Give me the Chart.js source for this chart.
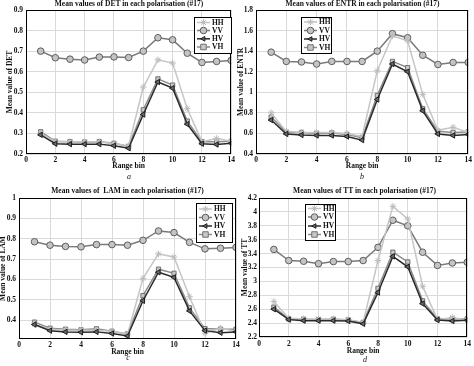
<!DOCTYPE html>
<html>
<head>
<meta charset="utf-8">
<script src="https://cdn.jsdelivr.net/npm/chart.js@4.4.1/dist/chart.umd.min.js"></script>
<style>
  html, body { margin: 0; padding: 0; background: #ffffff; }
  #wrap { position: relative; width: 474px; height: 366px; overflow: hidden; background: #fff; }
  canvas { position: absolute; }
  .ttl, .cap { position: absolute; font-family: "Liberation Serif", "DejaVu Serif", serif; color: #111; white-space: nowrap; text-align: center; }
  .ttl { font-weight: bold; font-size: 7.5px; }
  .cap { font-style: italic; font-size: 8px; }
</style>
</head>
<body>
<div id="wrap">
  <canvas id="cc" width="245" height="183" style="left:0px;top:183px"></canvas>
  <canvas id="ca" width="237" height="183" style="left:0px;top:0px"></canvas>
  <canvas id="cb" width="237" height="183" style="left:237px;top:0px"></canvas>
  <canvas id="cd" width="237" height="183" style="left:237px;top:183px"></canvas>
  <div class="ttl" style="left:26px;width:206px;top:-1px">Mean values of DET in each polarisation (#17)</div>
  <div class="ttl" style="left:256px;width:213px;top:-1px">Mean values of ENTR in each polarisation (#17)</div>
  <div class="ttl" style="left:19px;width:217px;top:186px">Mean values of&nbsp; LAM in each polarisation (#17)</div>
  <div class="ttl" style="left:259px;width:211px;top:186px">Mean values of TT in each polarisation (#17)</div>
  <div class="cap" style="left:119px;width:20px;top:172px">a</div>
  <div class="cap" style="left:352px;width:20px;top:172px">b</div>
  <div class="cap" style="left:118px;width:20px;top:353px">c</div>
  <div class="cap" style="left:355px;width:20px;top:355px">d</div>
</div>
<script>
// ---------- data ----------
const rangeBins = [1, 2, 3, 4, 5, 6, 7, 8, 9, 10, 11, 12, 13, 14];
const xTicks = [0, 2, 4, 6, 8, 10, 12, 14];
const seriesNames = ['HH', 'VV', 'HV', 'VH'];

const detHH = [0.300, 0.260, 0.260, 0.260, 0.260, 0.250, 0.240, 0.525, 0.658, 0.642, 0.420, 0.260, 0.275, 0.262];
const detVV = [0.700, 0.668, 0.661, 0.657, 0.671, 0.672, 0.669, 0.700, 0.765, 0.755, 0.690, 0.645, 0.650, 0.655];
const detHV = [0.293, 0.250, 0.248, 0.248, 0.248, 0.240, 0.228, 0.392, 0.550, 0.520, 0.345, 0.250, 0.246, 0.252];
const detVH = [0.308, 0.262, 0.260, 0.258, 0.260, 0.252, 0.237, 0.415, 0.565, 0.535, 0.360, 0.260, 0.260, 0.262];
const detTicks = [0.2, 0.3, 0.4, 0.5, 0.6, 0.7, 0.8, 0.9];

const entrHH = [0.80, 0.62, 0.61, 0.61, 0.61, 0.60, 0.57, 1.21, 1.55, 1.50, 0.98, 0.63, 0.66, 0.61];
const entrVV = [1.39, 1.30, 1.295, 1.275, 1.30, 1.30, 1.30, 1.40, 1.57, 1.53, 1.36, 1.27, 1.29, 1.29];
const entrHV = [0.73, 0.595, 0.585, 0.58, 0.58, 0.57, 0.535, 0.93, 1.275, 1.20, 0.82, 0.595, 0.58, 0.59];
const entrVH = [0.76, 0.61, 0.61, 0.60, 0.605, 0.59, 0.56, 0.97, 1.30, 1.24, 0.84, 0.62, 0.61, 0.615];
const entrTicks = [0.4, 0.6, 0.8, 1, 1.2, 1.4, 1.6, 1.8];

const lamHH = [0.380, 0.355, 0.350, 0.350, 0.350, 0.345, 0.330, 0.605, 0.725, 0.710, 0.515, 0.335, 0.360, 0.345];
const lamVV = [0.785, 0.768, 0.762, 0.760, 0.771, 0.771, 0.768, 0.792, 0.838, 0.830, 0.782, 0.750, 0.753, 0.757];
const lamHV = [0.378, 0.348, 0.342, 0.340, 0.342, 0.334, 0.322, 0.495, 0.635, 0.610, 0.445, 0.348, 0.338, 0.342];
const lamVH = [0.390, 0.360, 0.355, 0.352, 0.357, 0.345, 0.332, 0.520, 0.650, 0.630, 0.460, 0.358, 0.355, 0.355];
const lamTicks = [0.4, 0.5, 0.6, 0.7, 0.8, 0.9, 1];

const ttHH = [2.71, 2.47, 2.46, 2.46, 2.46, 2.45, 2.41, 3.30, 4.08, 3.90, 2.93, 2.45, 2.48, 2.44];
const ttVV = [3.46, 3.30, 3.29, 3.255, 3.285, 3.285, 3.30, 3.49, 3.88, 3.80, 3.42, 3.23, 3.265, 3.275];
const ttHV = [2.60, 2.45, 2.435, 2.435, 2.435, 2.43, 2.39, 2.84, 3.36, 3.21, 2.68, 2.445, 2.43, 2.44];
const ttVH = [2.63, 2.46, 2.455, 2.45, 2.455, 2.445, 2.41, 2.90, 3.42, 3.28, 2.72, 2.46, 2.46, 2.46];
const ttTicks = [2.2, 2.4, 2.6, 2.8, 3, 3.2, 3.4, 3.6, 3.8, 4, 4.2];

// ---------- styles ----------
const FONT = '"Liberation Serif", "Times New Roman", serif';
const FS = 7.5;
const seriesStyle = {
  HH: { line: '#c6c6c6', fill: '#d4d4d4', edge: '#bcbcbc', shape: 'star', r: 3.3, rot: 0 },
  VV: { line: '#7a7a7a', fill: '#c4c4c4', edge: '#5e5e5e', shape: 'circle', r: 3.3, rot: 0 },
  HV: { line: '#2a2a2a', fill: '#6a6a6a', edge: '#1e1e1e', shape: 'triangle', r: 3.1, rot: -90 },
  VH: { line: '#8c8c8c', fill: '#c8c8c8', edge: '#707070', shape: 'rect', r: 3.0, rot: 0 }
};

function makeDatasets(values) {
  return seriesNames.map((name, i) => {
    const s = seriesStyle[name];
    return {
      label: name,
      data: rangeBins.map((x, j) => ({ x: x, y: values[i][j] })),
      borderColor: s.line,
      borderWidth: 1.5,
      pointStyle: s.shape,
      pointRotation: s.rot,
      pointRadius: s.r,
      pointBorderWidth: 1,
      pointBackgroundColor: s.fill,
      pointBorderColor: s.edge,
      tension: 0,
      order: [2, 4, 1, 3][i]
    };
  });
}

function drawMarker(ctx, shape, x, y, r, rot, fill, edge) {
  ctx.save();
  ctx.fillStyle = fill; ctx.strokeStyle = edge; ctx.lineWidth = 1;
  ctx.translate(x, y);
  ctx.rotate(rot * Math.PI / 180);
  ctx.beginPath();
  if (shape === 'circle') {
    ctx.arc(0, 0, r, 0, Math.PI * 2);
    ctx.fill(); ctx.stroke();
  } else if (shape === 'rect') {
    const h = r / Math.SQRT2 * 1.3;
    ctx.rect(-h, -h, 2 * h, 2 * h);
    ctx.fill(); ctx.stroke();
  } else if (shape === 'triangle') {
    const a = r * 1.5;
    ctx.moveTo(0, -a * 0.6);
    ctx.lineTo(a * 0.5, a * 0.3);
    ctx.lineTo(-a * 0.5, a * 0.3);
    ctx.closePath();
    ctx.fill(); ctx.stroke();
  } else {
    for (let k = 0; k < 4; k++) {
      const ang = k * Math.PI / 4;
      ctx.moveTo(-Math.cos(ang) * r, -Math.sin(ang) * r);
      ctx.lineTo(Math.cos(ang) * r, Math.sin(ang) * r);
    }
    ctx.stroke();
  }
  ctx.restore();
}

const framePlugin = {
  id: 'frame',
  afterDraw(chart) {
    const a = chart.chartArea, ctx = chart.ctx;
    ctx.save();
    ctx.strokeStyle = '#000'; ctx.lineWidth = 1;
    ctx.strokeRect(Math.round(a.left) + 0.5, Math.round(a.top) + 0.5,
                   Math.round(a.right - a.left) - 1, Math.round(a.bottom - a.top) - 1);
    ctx.restore();
  }
};

const boxLegendPlugin = {
  id: 'boxLegend',
  afterDraw(chart, args, opts) {
    const ctx = chart.ctx, b = opts.box;
    ctx.save();
    ctx.fillStyle = '#fff';
    ctx.fillRect(b.x, b.y, b.w, b.h);
    ctx.strokeStyle = '#000'; ctx.lineWidth = 1;
    ctx.strokeRect(b.x + 0.5, b.y + 0.5, b.w, b.h);
    chart.data.datasets.forEach((ds, i) => {
      const s = seriesStyle[ds.label];
      const y = opts.rows[i];
      const x0 = b.x + 3, x1 = b.x + 16;
      ctx.strokeStyle = s.line; ctx.lineWidth = 1.5;
      ctx.beginPath(); ctx.moveTo(x0, y); ctx.lineTo(x1, y); ctx.stroke();
      drawMarker(ctx, s.shape, (x0 + x1) / 2, y, s.r, s.rot, s.fill, s.edge);
      ctx.fillStyle = '#111';
      ctx.font = 'bold ' + FS + 'px ' + FONT;
      ctx.textBaseline = 'middle';
      ctx.textAlign = 'left';
      ctx.fillText(ds.label, b.x + 18, y + 0.5);
    });
    ctx.restore();
  }
};

function fmt(v) { return String(Number(v.toFixed(2))); }

function makeChart(id, cfg) {
  return new Chart(document.getElementById(id), {
    type: 'line',
    data: { datasets: makeDatasets(cfg.values) },
    plugins: [framePlugin, boxLegendPlugin],
    options: {
      responsive: false,
      animation: false,
      events: [],
      layout: { padding: cfg.pad },
      plugins: {
        legend: { display: false },
        tooltip: { enabled: false },
        title: { display: false },
        boxLegend: { box: cfg.legBox, rows: cfg.legRows }
      },
      scales: {
        x: {
          type: 'linear', min: 0, max: 14,
          afterBuildTicks: s => { s.ticks = xTicks.map(v => ({ value: v })); },
          afterFit: s => { s.height = cfg.xh; },
          ticks: { font: { family: FONT, size: FS, weight: 'bold' }, color: '#111', padding: cfg.xtp, maxRotation: 0, callback: v => fmt(v) },
          grid: { color: '#dadada', lineWidth: 1, drawTicks: false },
          border: { display: false },
          title: { display: true, text: 'Range bin', font: { family: FONT, size: FS, weight: 'bold' }, color: '#111', padding: { top: 0, bottom: cfg.xtitlePad } }
        },
        y: {
          type: 'linear', min: cfg.ymin, max: cfg.ymax,
          afterBuildTicks: s => { s.ticks = cfg.yTicks.map(v => ({ value: v })); },
          afterFit: s => { s.width = cfg.yw; },
          ticks: { font: { family: FONT, size: FS, weight: 'bold' }, color: '#111', padding: cfg.ytp, callback: v => fmt(v) },
          grid: { color: '#dadada', lineWidth: 1, drawTicks: false },
          border: { display: false },
          title: { display: true, text: cfg.ytitle, font: { family: FONT, size: FS, weight: 'bold' }, color: '#111', padding: { top: cfg.ytitlePad, bottom: 0 } }
        }
      }
    }
  });
}

makeChart('ca', {
  values: [detHH, detVV, detHV, detVH], yTicks: detTicks, ymin: 0.2, ymax: 0.9,
  ytitle: 'Mean value of DET',
  pad: { left: 0, right: 5, top: 10, bottom: 11 }, yw: 26, xh: 18, xtp: 2, ytp: 3, xtitlePad: 1, ytitlePad: 6,
  legBox: { x: 194, y: 17, w: 37, h: 36 }, legRows: [22.5, 30.5, 38.8, 47]
});
makeChart('cb', {
  values: [entrHH, entrVV, entrHV, entrVH], yTicks: entrTicks, ymin: 0.4, ymax: 1.8,
  ytitle: 'Mean value of ENTR',
  pad: { left: 0, right: 5, top: 10, bottom: 11 }, yw: 19, xh: 18, xtp: 2, ytp: 3, xtitlePad: 1, ytitlePad: 0,
  legBox: { x: 64, y: 17, w: 30, h: 36 }, legRows: [22, 30.5, 39, 47.5]
});
makeChart('cc', {
  values: [lamHH, lamVV, lamHV, lamVH], yTicks: lamTicks, ymin: 0.307, ymax: 1,
  ytitle: 'Mean value of LAM',
  pad: { left: 0, right: 9, top: 15, bottom: 8 }, yw: 19, xh: 19, xtp: 2, ytp: 3, xtitlePad: 1, ytitlePad: -1,
  legBox: { x: 196, y: 20, w: 36, h: 39 }, legRows: [26, 34.5, 43, 51.5]
});
makeChart('cd', {
  values: [ttHH, ttVV, ttHV, ttVH], yTicks: ttTicks, ymin: 2.2, ymax: 4.2,
  ytitle: 'Mean value of TT',
  pad: { left: 0, right: 4, top: 15, bottom: 9 }, yw: 22, xh: 20, xtp: 3, ytp: 2, xtitlePad: 1, ytitlePad: 4,
  legBox: { x: 68, y: 21, w: 30, h: 36 }, legRows: [25.5, 34, 43, 51.5]
});
</script>
</body>
</html>
